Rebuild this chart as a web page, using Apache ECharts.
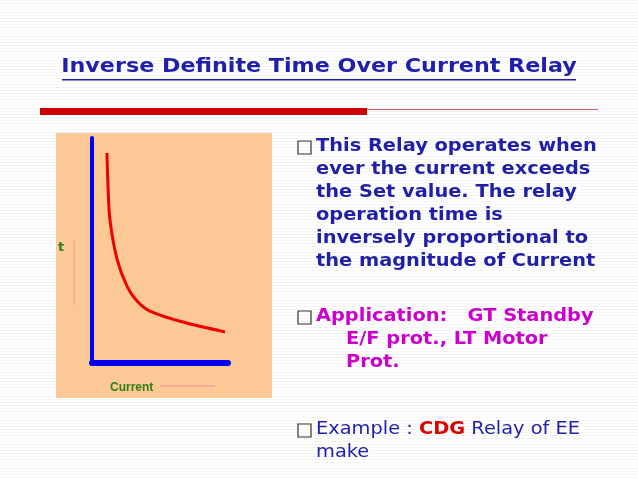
<!DOCTYPE html>
<html><head><meta charset="utf-8">
<script src="https://cdn.jsdelivr.net/npm/echarts@6/dist/echarts.min.js"></script>
<style>html,body{margin:0;padding:0;background:#fff}#main{width:638px;height:478px}</style>
</head><body><div id="main"></div>
<script>
// curve values (current, time)
var currentVals = [1.1, 1.18, 1.32, 1.84, 2.57, 3.31, 4.26, 6.69, 9.78];
var timeVals = [9.33, 7.82, 6.36, 4.62, 3.42, 2.76, 2.31, 1.82, 1.38];
var curve = currentVals.map(function (c, i) { return [c, timeVals[i]]; });

var chart = echarts.init(document.getElementById('main'));
var blue = '#1f1fa8', font = 'DejaVu Sans';
function bullet(y) {
  return { type: 'rect', shape: { x: 298, y: y, width: 13, height: 13 },
    style: { fill: 'none', stroke: '#333', lineWidth: 1.2 } };
}
function line(x, y, t, st) {
  return { type: 'text', x: x, y: y, scaleX: 1.14, style: Object.assign({ text: t, font: 'bold 17px ' + font, fill: blue }, st || {}) };
}
var g = [
  { type: 'rect', z: -1, shape: { x: 56, y: 133, width: 216, height: 265 }, style: { fill: '#fcc895' } },
  { type: 'text', x: 319, y: 58, scaleX: 1.17, style: { text: 'Inverse Definite Time Over Current Relay', font: 'bold 19px ' + font, fill: blue, align: 'center' } },
  { type: 'rect', shape: { x: 62, y: 79, width: 514, height: 1.5 }, style: { fill: blue } },
  { type: 'rect', shape: { x: 40, y: 108, width: 327, height: 7 }, style: { fill: '#cc0000' } },
  { type: 'rect', shape: { x: 367, y: 109, width: 231, height: 1 }, style: { fill: '#cc6666' } },
  { type: 'text', x: 58, y: 241, style: { text: 't', font: 'bold 13px ' + font, fill: '#2e7d1a' } },
  { type: 'line', shape: { x1: 74, y1: 305, x2: 74, y2: 240 }, style: { stroke: '#f090a0', lineWidth: 1 } },
  { type: 'text', x: 110, y: 382, style: { text: 'Current', font: 'bold 12px Liberation Sans Narrow, Liberation Sans', fill: '#2e7d1a' } },
  { type: 'line', shape: { x1: 160, y1: 386, x2: 215, y2: 386 }, style: { stroke: '#f090a0', lineWidth: 1 } },
  bullet(141), bullet(311), bullet(424),
  line(316, 138, 'This Relay operates when'),
  line(316, 161, 'ever the current exceeds'),
  line(316, 184, 'the Set value. The relay'),
  line(316, 207, 'operation time is'),
  line(316, 230, 'inversely proportional to'),
  line(316, 253, 'the magnitude of Current'),
  line(316, 308, 'Application:   GT Standby', { fill: '#cc00cc' }),
  line(346, 331, 'E/F prot., LT Motor', { fill: '#cc00cc' }),
  line(346, 354, 'Prot.', { fill: '#cc00cc' }),
  { type: 'text', x: 316, y: 421, scaleX: 1.14, style: { text: 'Example : {r|CDG} Relay of EE', font: '17px ' + font, fill: blue,
      rich: { r: { font: 'bold 17px ' + font, fill: '#dd0000' } } } },
  line(316, 444, 'make', { font: '17px ' + font })
];
for (var yy = 0; yy < 478; yy += 3) g.unshift({ type: 'rect', z: -2, shape: { x: 0, y: yy, width: 638, height: 1 }, style: { fill: '#f4f4f4' } });

chart.setOption({
  animation: false,
  grid: { left: 92, top: 138, width: 136, height: 225 },
  xAxis: { type: 'value', min: 0, max: 10, axisLine: { lineStyle: { color: '#0000ee', width: 6 } },
    axisTick: { show: false }, axisLabel: { show: false }, splitLine: { show: false } },
  yAxis: { type: 'value', min: 0, max: 10, axisLine: { show: true, lineStyle: { color: '#0000ee', width: 4 } },
    axisTick: { show: false }, axisLabel: { show: false }, splitLine: { show: false } },
  series: [{ type: 'line', data: curve, smooth: 0.3, showSymbol: false, lineStyle: { color: '#ee0000', width: 3 } }],
  graphic: g
});
</script></body></html>
